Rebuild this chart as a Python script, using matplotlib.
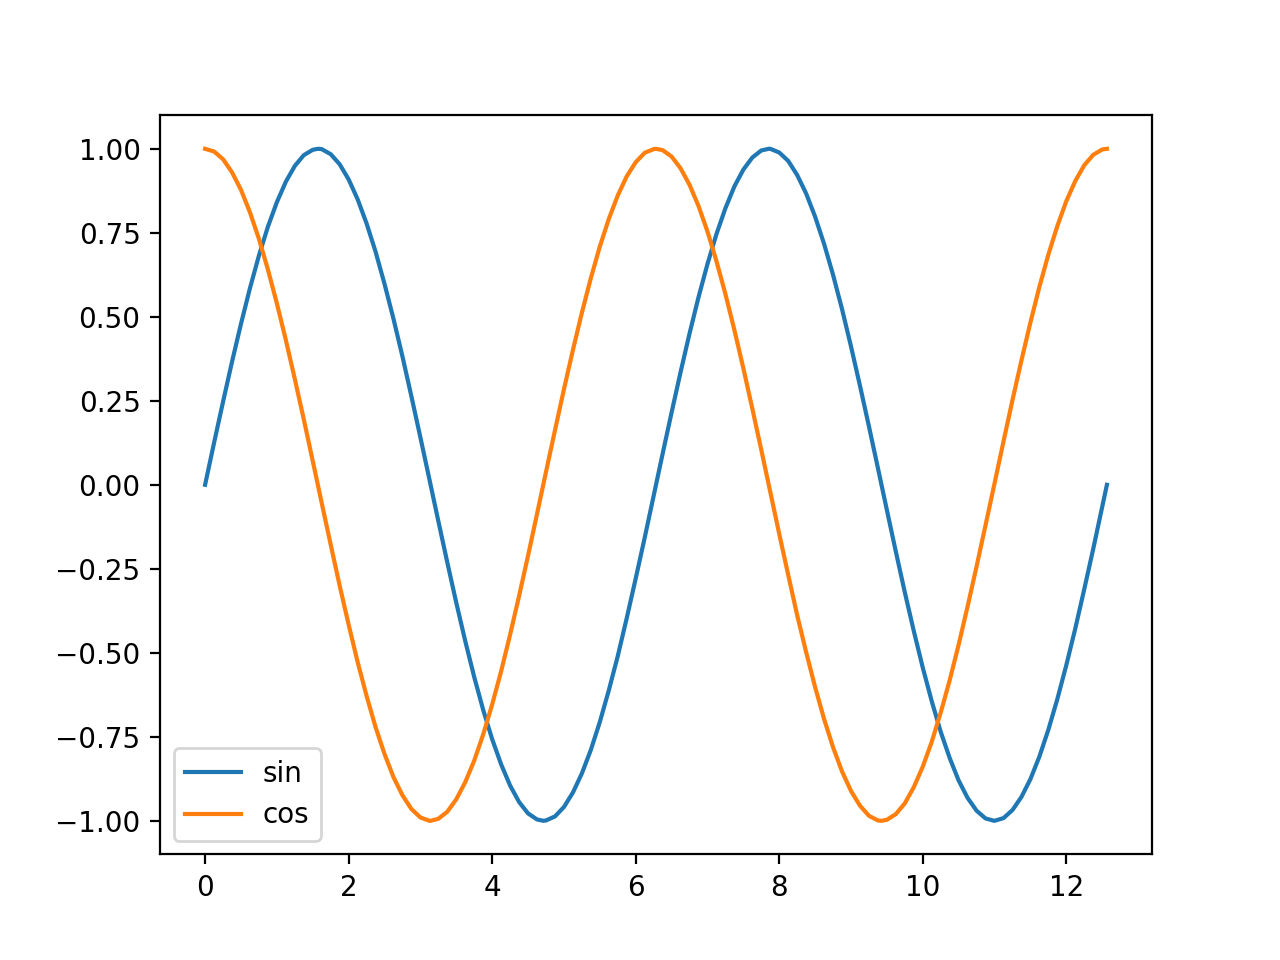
import matplotlib
matplotlib.use('Agg')
from matplotlib import pyplot as plt

# values (dense, so the curves look smooth)
x = [0.000, 0.125, 0.250, 0.375, 0.500, 0.625, 0.750, 0.875,
     1.000, 1.125, 1.250, 1.375, 1.500, 1.571, 1.625, 1.750, 1.875,
     2.000, 2.125, 2.250, 2.375, 2.500, 2.625, 2.750, 2.875,
     3.000, 3.125, 3.142, 3.250, 3.375, 3.500, 3.625, 3.750, 3.875,
     4.000, 4.125, 4.250, 4.375, 4.500, 4.625, 4.712, 4.750, 4.875,
     5.000, 5.125, 5.250, 5.375, 5.500, 5.625, 5.750, 5.875,
     6.000, 6.125, 6.250, 6.283, 6.375, 6.500, 6.625, 6.750, 6.875,
     7.000, 7.125, 7.250, 7.375, 7.500, 7.625, 7.750, 7.854, 7.875,
     8.000, 8.125, 8.250, 8.375, 8.500, 8.625, 8.750, 8.875,
     9.000, 9.125, 9.250, 9.375, 9.425, 9.500, 9.625, 9.750, 9.875,
     10.000, 10.125, 10.250, 10.375, 10.500, 10.625, 10.750, 10.875, 10.996,
     11.000, 11.125, 11.250, 11.375, 11.500, 11.625, 11.750, 11.875,
     12.000, 12.125, 12.250, 12.375, 12.500, 12.566]

sin_vals = [0.000, 0.125, 0.247, 0.366, 0.479, 0.585, 0.682, 0.768,
            0.841, 0.902, 0.949, 0.981, 0.997, 1.000, 0.999, 0.984, 0.954,
            0.909, 0.850, 0.778, 0.694, 0.598, 0.494, 0.382, 0.263,
            0.141, 0.017, 0.000, -0.108, -0.231, -0.351, -0.465, -0.572, -0.670,
            -0.757, -0.832, -0.895, -0.944, -0.978, -0.996, -1.000, -0.999, -0.987,
            -0.959, -0.916, -0.859, -0.789, -0.706, -0.612, -0.510, -0.397,
            -0.279, -0.158, -0.033, 0.000, 0.092, 0.215, 0.335, 0.450, 0.558,
            0.657, 0.746, 0.823, 0.888, 0.938, 0.974, 0.995, 1.000, 1.000,
            0.989, 0.964, 0.922, 0.867, 0.798, 0.717, 0.625, 0.523,
            0.412, 0.295, 0.174, 0.050, 0.000, -0.075, -0.199, -0.320, -0.435,
            -0.544, -0.644, -0.735, -0.813, -0.880, -0.932, -0.970, -0.993, -1.000,
            -1.000, -0.992, -0.968, -0.929, -0.876, -0.809, -0.729, -0.638,
            -0.537, -0.428, -0.311, -0.191, -0.066, 0.000]

cos_vals = [1.000, 0.992, 0.969, 0.930, 0.878, 0.811, 0.732, 0.641,
            0.540, 0.431, 0.315, 0.195, 0.071, 0.000, -0.054, -0.178, -0.300,
            -0.416, -0.527, -0.628, -0.721, -0.801, -0.870, -0.924, -0.965,
            -0.990, -1.000, -1.000, -0.994, -0.973, -0.936, -0.885, -0.821, -0.743,
            -0.654, -0.555, -0.446, -0.331, -0.211, -0.087, 0.000, 0.038, 0.162,
            0.284, 0.401, 0.512, 0.615, 0.709, 0.791, 0.861, 0.918,
            0.960, 0.988, 0.999, 1.000, 0.996, 0.977, 0.942, 0.893, 0.830,
            0.754, 0.666, 0.568, 0.461, 0.347, 0.227, 0.104, 0.000, -0.021,
            -0.146, -0.268, -0.388, -0.498, -0.602, -0.697, -0.781, -0.853,
            -0.911, -0.955, -0.985, -0.999, -1.000, -0.997, -0.980, -0.948, -0.900,
            -0.839, -0.765, -0.678, -0.582, -0.476, -0.362, -0.243, -0.120, 0.000,
            0.004, 0.129, 0.252, 0.370, 0.483, 0.589, 0.685, 0.770,
            0.844, 0.904, 0.951, 0.982, 0.998, 1.000]

fig = plt.figure(figsize=(6.4, 4.8), dpi=200)
ax = fig.add_subplot(111)
ax.plot(x, sin_vals, label='sin')
ax.plot(x, cos_vals, label='cos')
ax.legend(loc='lower left')

fig.savefig('out.png')
